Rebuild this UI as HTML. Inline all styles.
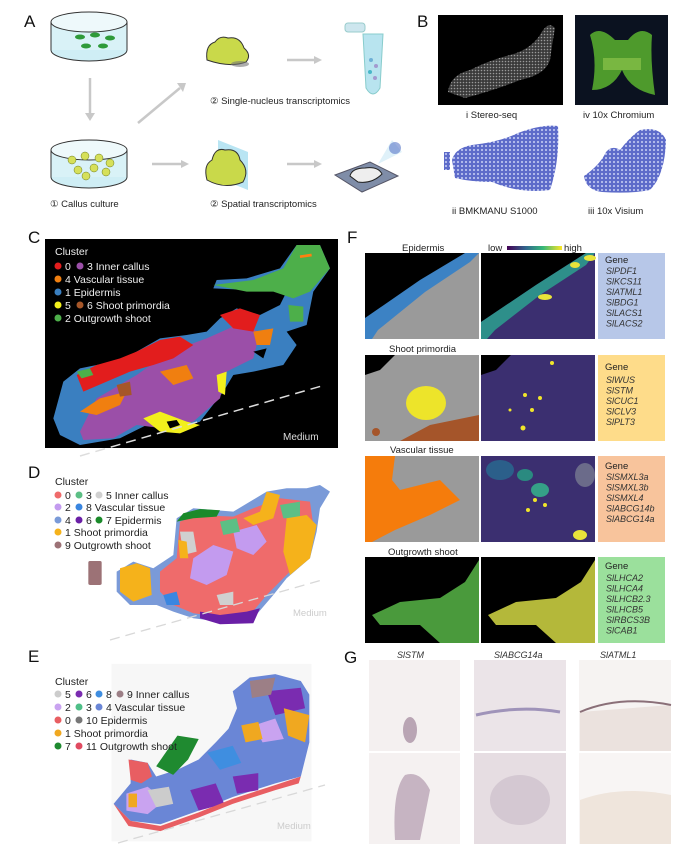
<!DOCTYPE html>
<html><head><meta charset="utf-8">
<style>
html,body{margin:0;padding:0;background:#fff;}
svg{display:block;font-family:"Liberation Sans",sans-serif;}
.lbl{font-size:17px;fill:#111;}
.cap{font-size:9.5px;fill:#222;}
.lg{font-size:10.5px;fill:#222;}
.lgw{font-size:10.5px;fill:#eee;}
.gene{font-size:9px;fill:#333;font-style:italic;}
</style></head>
<body>
<svg width="693" height="851" viewBox="0 0 693 851">
<defs>
<pattern id="cells" width="4" height="4" patternUnits="userSpaceOnUse"><rect width="4" height="4" fill="#5d6bc9"/><circle cx="2" cy="2" r="1.1" fill="#b9c2ee"/></pattern>
<pattern id="gray" width="3" height="3" patternUnits="userSpaceOnUse"><rect width="3" height="3" fill="#3a3a3a"/><circle cx="1.5" cy="1.5" r="0.8" fill="#9a9a9a"/></pattern>
<linearGradient id="vir" x1="0" x2="1"><stop offset="0" stop-color="#440154"/><stop offset="0.35" stop-color="#31688e"/><stop offset="0.65" stop-color="#35b779"/><stop offset="1" stop-color="#fde725"/></linearGradient>
</defs>
<!-- ===== Panel A ===== -->
<g>
<text class="lbl" x="24" y="27">A</text>
<g>
<ellipse cx="89" cy="50" rx="38" ry="11" fill="#cfeef5" stroke="#333"/>
<rect x="51" y="22" width="76" height="28" fill="#d9f2f7" stroke="none"/>
<line x1="51" y1="22" x2="51" y2="50" stroke="#333"/><line x1="127" y1="22" x2="127" y2="50" stroke="#333"/>
<ellipse cx="89" cy="22" rx="38" ry="10" fill="#eef9fb" stroke="#333"/>
<ellipse cx="80" cy="37" rx="5" ry="2.5" fill="#2f9a3a"/><ellipse cx="95" cy="35" rx="5" ry="2.5" fill="#2f9a3a"/><ellipse cx="110" cy="38" rx="5" ry="2.5" fill="#2f9a3a"/>
<ellipse cx="86" cy="46" rx="5" ry="2.5" fill="#2f9a3a"/><ellipse cx="103" cy="46" rx="5" ry="2.5" fill="#2f9a3a"/>
</g>
<line x1="90" y1="78" x2="90" y2="115" stroke="#c8c8c8" stroke-width="2.5"/>
<polygon points="85,113 95,113 90,121" fill="#c8c8c8"/>
<g>
<ellipse cx="89" cy="177" rx="38" ry="11" fill="#cfeef5" stroke="#333"/>
<rect x="51" y="150" width="76" height="27" fill="#d9f2f7"/>
<line x1="51" y1="150" x2="51" y2="177" stroke="#333"/><line x1="127" y1="150" x2="127" y2="177" stroke="#333"/>
<ellipse cx="89" cy="150" rx="38" ry="10" fill="#eef9fb" stroke="#333"/>
<g fill="#d6e05a" stroke="#6a7a20" stroke-width="0.5">
<circle cx="72" cy="160" r="4"/><circle cx="85" cy="156" r="4"/><circle cx="99" cy="158" r="4"/><circle cx="110" cy="163" r="4"/>
<circle cx="78" cy="170" r="4"/><circle cx="94" cy="168" r="4"/><circle cx="106" cy="172" r="4"/><circle cx="86" cy="176" r="4"/></g>
</g>
<text class="cap" x="50" y="207">① Callus culture</text>
<line x1="138" y1="123" x2="180" y2="88" stroke="#c8c8c8" stroke-width="2.5"/>
<polygon points="177,83 186,83 183,92" fill="#c8c8c8"/>
<g>
<path d="M207,60 Q205,45 215,42 Q220,35 228,38 Q240,36 244,48 Q252,55 246,62 Q230,68 207,60Z" fill="#c9d94a" stroke="#333" stroke-width="1"/>
<ellipse cx="240" cy="64" rx="9" ry="3" fill="#777" opacity="0.6"/>
</g>
<line x1="287" y1="60" x2="315" y2="60" stroke="#c8c8c8" stroke-width="2.5"/><polygon points="314,56 322,60 314,64" fill="#c8c8c8"/>
<g>
<rect x="345" y="23" width="20" height="9" rx="3" fill="#cde6ee" stroke="#9cc"/>
<path d="M363,34 L383,34 L380,88 Q373,100 366,88 Z" fill="#b8e4ef" stroke="#8cc"/>
<circle cx="371" cy="60" r="2" fill="#6fb0d6"/><circle cx="376" cy="66" r="2" fill="#a39acf"/><circle cx="370" cy="72" r="2" fill="#49b7c8"/><circle cx="375" cy="78" r="2" fill="#a39acf"/>
</g>
<text class="cap" x="210" y="104">② Single-nucleus transcriptomics</text>
<line x1="152" y1="164" x2="182" y2="164" stroke="#c8c8c8" stroke-width="2.5"/><polygon points="181,160 189,164 181,168" fill="#c8c8c8"/>
<g>
<polygon points="218,140 248,152 248,190 218,178" fill="#a8dff0" opacity="0.8"/>
<path d="M207,180 Q203,165 212,160 Q215,147 225,150 Q238,148 240,160 Q250,170 243,182 Q225,190 207,180Z" fill="#c9d94a" stroke="#333"/>
</g>
<line x1="287" y1="164" x2="315" y2="164" stroke="#c8c8c8" stroke-width="2.5"/><polygon points="314,160 322,164 314,168" fill="#c8c8c8"/>
<g>
<polygon points="335,175 370,162 398,176 362,192" fill="#7f8da8" stroke="#556"/>
<path d="M350,176 Q352,168 365,168 Q378,166 382,174 Q372,184 358,182Z" fill="#eee" stroke="#222"/>
<polygon points="378,164 392,140 402,152" fill="#d7eef8" opacity="0.8"/><circle cx="395" cy="148" r="6" fill="#5a78c8" opacity="0.6"/>
</g>
<text class="cap" x="210" y="207">② Spatial transcriptomics</text>
</g>
<!-- ===== Panel B ===== -->
<g>
<text class="lbl" x="417" y="27">B</text>
<rect x="438" y="15" width="125" height="90" fill="#000"/>
<path d="M448,92 Q450,75 470,70 Q490,60 510,55 Q530,50 540,35 Q548,20 555,28 Q552,45 550,60 Q545,75 520,80 Q495,90 465,98Z" fill="url(#gray)"/>
<text class="cap" x="466" y="118">i Stereo-seq</text>
<rect x="575" y="15" width="93" height="90" fill="#0b1220"/>
<path d="M590,35 Q600,25 615,40 L628,40 Q640,25 652,35 Q650,60 655,95 Q630,90 622,70 Q612,90 592,90 Q598,60 590,35Z" fill="#4e9a2c"/>
<rect x="603" y="58" width="38" height="12" fill="#8bc34a" opacity="0.7"/>
<text class="cap" x="583" y="118">iv 10x Chromium</text>
<path d="M452,160 Q455,148 472,145 Q500,142 518,133 Q542,124 558,126 Q560,160 550,190 Q520,194 492,182 Q472,182 455,178Z" fill="url(#cells)"/>
<rect x="444" y="152" width="6" height="18" fill="url(#cells)"/>
<text class="cap" x="452" y="214">ii BMKMANU S1000</text>
<path d="M584,176 Q600,165 606,152 Q612,145 620,150 Q630,137 640,130 Q660,126 666,140 Q665,175 650,190 Q630,194 602,192 Q586,190 584,176Z" fill="url(#cells)"/>
<text class="cap" x="588" y="214">iii 10x Visium</text>
</g>
<!-- ===== Panel C ===== -->
<g>
<text class="lbl" x="28" y="243">C</text>
<rect x="45" y="239" width="293" height="209" fill="#000"/>
<g transform="translate(20,225) scale(0.3333)">
<polygon fill="#3a7fc0" points="100,580 130,470 180,430 230,420 290,410 350,380 420,340 500,330 560,320 600,280 650,250 720,270 780,240 800,200 580,190 590,165 680,160 780,130 830,60 900,60 930,130 880,200 860,300 800,320 830,360 790,420 700,440 640,450 610,500 540,590 450,620 380,600 300,640 180,660 120,630"/>
<polygon fill="#9b4fa8" points="180,620 230,520 350,450 450,380 560,340 650,300 720,320 700,400 620,440 600,520 520,590 430,610 350,600 280,640 190,645"/>
<polygon fill="#e21d1d" points="170,450 230,420 300,400 350,380 420,345 480,335 520,360 460,400 400,420 330,440 260,470 190,500"/>
<polygon fill="#e21d1d" points="600,270 660,250 720,270 700,320 640,310"/>
<polygon fill="#f07f10" points="180,560 240,520 320,500 300,540 230,570"/>
<polygon fill="#f07f10" points="420,440 500,420 520,460 460,480"/>
<polygon fill="#f07f10" points="700,320 760,310 750,360 710,360"/>
<polygon fill="#f3f01c" points="370,580 420,560 500,590 540,600 480,625 420,620"/>
<polygon fill="#f3f01c" points="590,450 620,440 615,510 595,500"/>
<polygon fill="#a65628" points="290,480 330,470 335,510 300,515"/>
<polygon fill="#4daf4a" points="580,180 700,165 790,130 830,60 900,60 930,130 870,200 820,220 760,200 680,200"/>
<polygon fill="#4daf4a" points="805,240 850,245 850,290 810,290"/>
<polygon fill="#4daf4a" points="170,440 210,430 220,450 185,460"/>
<line x1="840" y1="95" x2="875" y2="90" stroke="#ff8010" stroke-width="8"/>
<polygon fill="#000" points="440,590 470,585 480,600 450,610"/><polygon fill="#000" points="700,380 740,370 730,400"/>
</g>
<line x1="80" y1="456" x2="325" y2="385" stroke="#ddd" stroke-width="1.5" stroke-dasharray="10,6"/>
<text x="283" y="440" font-size="10" fill="#ddd">Medium</text>
<g>
<text class="lgw" x="55" y="255">Cluster</text>
<circle cx="58" cy="266" r="3.5" fill="#e21d1d"/><text class="lgw" x="65" y="270">0</text><circle cx="80" cy="266" r="3.5" fill="#9b4fa8"/><text class="lgw" x="87" y="270">3  Inner callus</text>
<circle cx="58" cy="279" r="3.5" fill="#f07f10"/><text class="lgw" x="65" y="283">4  Vascular tissue</text>
<circle cx="58" cy="292" r="3.5" fill="#3a7fc0"/><text class="lgw" x="65" y="296">1  Epidermis</text>
<circle cx="58" cy="305" r="3.5" fill="#f3f01c"/><text class="lgw" x="65" y="309">5</text><circle cx="80" cy="305" r="3.5" fill="#a65628"/><text class="lgw" x="87" y="309">6  Shoot primordia</text>
<circle cx="58" cy="318" r="3.5" fill="#4daf4a"/><text class="lgw" x="65" y="322">2  Outgrowth shoot</text>
</g>
</g>
<!-- ===== Panel D ===== -->
<g>
<text class="lbl" x="28" y="478">D</text>
<g transform="translate(20,225) scale(0.3333)">
<polygon fill="#7a9ad8" points="290,1040 340,1010 400,1030 460,990 470,880 520,850 580,855 640,860 690,830 740,800 800,790 860,790 900,780 930,800 900,850 890,920 870,1000 800,1060 760,1110 700,1180 600,1190 520,1180 460,1160 410,1140 330,1140 290,1100"/>
<polygon fill="#ef6b6b" points="420,1040 470,1000 480,890 530,870 640,875 700,850 780,820 870,830 880,900 850,1000 790,1060 740,1110 690,1170 600,1175 520,1165 460,1140 420,1100"/>
<polygon fill="#c39bef" points="520,1000 580,960 640,980 620,1050 560,1080 510,1060"/>
<polygon fill="#c39bef" points="640,920 710,900 740,950 700,990 650,970"/>
<polygon fill="#5cbf85" points="600,890 650,880 660,920 610,930"/><polygon fill="#5cbf85" points="780,840 840,830 840,880 790,880"/>
<polygon fill="#d0d0d0" points="480,920 520,920 530,980 490,990"/><polygon fill="#d0d0d0" points="590,1110 640,1100 640,1140 600,1140"/>
<polygon fill="#f5b21b" points="300,1030 350,1015 390,1030 395,1110 340,1130 300,1100"/>
<polygon fill="#f5b21b" points="800,880 860,870 890,900 870,1000 810,1050 790,980"/>
<polygon fill="#f5b21b" points="670,880 720,860 740,800 780,810 760,880 700,900"/>
<polygon fill="#f5b21b" points="475,945 500,950 505,1000 480,1000"/>
<polygon fill="#1a8a2a" points="470,890 490,865 540,852 600,856 590,875 520,880"/>
<polygon fill="#6a1fa6" points="540,1160 600,1170 680,1160 720,1150 700,1195 600,1198 540,1180"/>
<polygon fill="#3a86e0" points="430,1110 470,1100 480,1140 440,1140"/>
<rect x="205" y="1008" width="40" height="72" rx="5" fill="#9c7276"/>
</g>
<line x1="110" y1="640" x2="322" y2="580" stroke="#d8d8d8" stroke-width="1.3" stroke-dasharray="10,6"/>
<text x="293" y="616" font-size="9.5" fill="#ccc">Medium</text>
<g>
<text class="lg" x="55" y="485">Cluster</text>
<circle cx="58" cy="495" r="3.5" fill="#ef6b6b"/><text class="lg" x="65" y="499">0</text><circle cx="79" cy="495" r="3.5" fill="#5cbf85"/><text class="lg" x="86" y="499">3</text><circle cx="99" cy="495" r="3.5" fill="#d0d0d0"/><text class="lg" x="106" y="499">5  Inner callus</text>
<circle cx="58" cy="507" r="3.5" fill="#c39bef"/><text class="lg" x="65" y="511">2</text><circle cx="79" cy="507" r="3.5" fill="#3a86e0"/><text class="lg" x="86" y="511">8  Vascular tissue</text>
<circle cx="58" cy="520" r="3.5" fill="#7a9ad8"/><text class="lg" x="65" y="524">4</text><circle cx="79" cy="520" r="3.5" fill="#6a1fa6"/><text class="lg" x="86" y="524">6</text><circle cx="99" cy="520" r="3.5" fill="#1a8a2a"/><text class="lg" x="106" y="524">7  Epidermis</text>
<circle cx="58" cy="532" r="3.5" fill="#f5b21b"/><text class="lg" x="65" y="536">1  Shoot primordia</text>
<circle cx="58" cy="545" r="3.5" fill="#9c7276"/><text class="lg" x="65" y="549">9  Outgrowth shoot</text>
</g>
</g>
<!-- ===== Panel E ===== -->
<g>
<text class="lbl" x="28" y="662">E</text>
<g transform="translate(20,640) scale(0.4255,0.3413)">
<rect x="215" y="70" width="470" height="520" fill="#f7f7f7"/>
<polygon fill="#6a86d6" points="220,480 260,420 260,350 300,360 320,400 370,380 420,350 460,300 490,260 510,200 500,150 540,110 600,100 660,120 680,160 680,300 660,400 600,420 500,460 420,500 330,540 260,530"/>
<polygon fill="#7a2cb0" points="400,440 460,420 480,480 420,500"/><polygon fill="#7a2cb0" points="500,400 560,390 560,440 510,450"/>
<polygon fill="#7a2cb0" points="580,150 660,140 670,200 600,220"/>
<polygon fill="#c9a3f0" points="250,450 300,430 340,470 300,510 250,500"/>
<polygon fill="#c9a3f0" points="550,250 600,230 620,290 570,300"/>
<polygon fill="#ccc" points="300,440 350,430 360,480 320,490"/><polygon fill="#9c7f86" points="540,120 600,110 590,160 545,170"/>
<polygon fill="#f0a820" points="520,250 560,240 570,290 530,300"/><polygon fill="#f0a820" points="620,200 680,220 670,300 630,280"/>
<polygon fill="#f0a820" points="255,450 275,450 275,490 255,490"/>
<polygon fill="#e85e62" points="220,480 260,530 330,545 420,505 500,465 600,425 660,400 655,420 600,440 500,480 420,520 330,560 255,545"/>
<polygon fill="#e85e62" points="255,350 300,360 310,400 285,420 260,410"/>
<polygon fill="#1f8a30" points="320,370 370,280 420,290 395,350 360,395"/>
<polygon fill="#3f8ee0" points="440,330 500,310 520,360 470,380"/>
</g>
<line x1="118" y1="843" x2="325" y2="785" stroke="#d8d8d8" stroke-width="1.3" stroke-dasharray="10,6"/>
<text x="277" y="829" font-size="9.5" fill="#ccc">Medium</text>
<g>
<text class="lg" x="55" y="685">Cluster</text>
<circle cx="58" cy="694" r="3.5" fill="#ccc"/><text class="lg" x="65" y="698">5</text><circle cx="79" cy="694" r="3.5" fill="#7a2cb0"/><text class="lg" x="86" y="698">6</text><circle cx="99" cy="694" r="3.5" fill="#3f8ee0"/><text class="lg" x="106" y="698">8</text><circle cx="120" cy="694" r="3.5" fill="#9c7f86"/><text class="lg" x="127" y="698">9  Inner callus</text>
<circle cx="58" cy="707" r="3.5" fill="#c9a3f0"/><text class="lg" x="65" y="711">2</text><circle cx="79" cy="707" r="3.5" fill="#4fbf88"/><text class="lg" x="86" y="711">3</text><circle cx="99" cy="707" r="3.5" fill="#6a86d6"/><text class="lg" x="106" y="711">4  Vascular tissue</text>
<circle cx="58" cy="720" r="3.5" fill="#e85e62"/><text class="lg" x="65" y="724">0</text><circle cx="79" cy="720" r="3.5" fill="#777"/><text class="lg" x="86" y="724">10 Epidermis</text>
<circle cx="58" cy="733" r="3.5" fill="#f0a820"/><text class="lg" x="65" y="737">1  Shoot primordia</text>
<circle cx="58" cy="746" r="3.5" fill="#1f8a30"/><text class="lg" x="65" y="750">7</text><circle cx="79" cy="746" r="3.5" fill="#e04a60"/><text class="lg" x="86" y="750">11 Outgrowth shoot</text>
</g>
</g>
<!-- ===== Panel F ===== -->
<g>
<text class="lbl" x="347" y="243">F</text>
<text class="cap" x="488" y="251">low</text>
<rect x="507" y="246" width="55" height="4" fill="url(#vir)"/>
<text class="cap" x="564" y="251">high</text>
<text class="cap" x="402" y="251">Epidermis</text>
<g>
<rect x="365" y="253" width="114" height="86" fill="#000"/>
<polygon points="365,339 365,322 420,285 470,253 479,253 479,339" fill="#9a9a9a"/>
<polygon points="365,339 365,318 420,280 465,253 479,253 470,262 425,292 378,330 372,339" fill="#3c82c4"/>
</g>
<g>
<rect x="481" y="253" width="114" height="86" fill="#000"/>
<polygon points="481,339 481,322 536,285 586,253 595,253 595,339" fill="#3b2f70"/>
<polygon points="481,322 536,285 586,253 595,253 586,265 540,295 495,330 487,339 481,339" fill="#2e8f8a"/>
<ellipse cx="545" cy="297" rx="7" ry="3" fill="#e8e33a"/><ellipse cx="575" cy="265" rx="5" ry="3" fill="#e8e33a"/><ellipse cx="590" cy="258" rx="6" ry="3" fill="#e8e33a"/>
</g>
<rect x="598" y="253" width="67" height="86" fill="#b7c7e8"/>
<text class="cap" x="605" y="263">Gene</text>
<text class="gene" x="606" y="274">SlPDF1</text><text class="gene" x="606" y="284.5">SlKCS11</text><text class="gene" x="606" y="295">SlATML1</text><text class="gene" x="606" y="305.5">SlBDG1</text><text class="gene" x="606" y="316">SlLACS1</text><text class="gene" x="606" y="326.5">SlLACS2</text>
<text class="cap" x="389" y="352">Shoot primordia</text>
<g>
<rect x="365" y="355" width="114" height="86" fill="#9a9a9a"/>
<polygon points="365,355 395,355 380,370 365,375" fill="#000"/>
<ellipse cx="426" cy="403" rx="20" ry="17" fill="#ede42a"/>
<polygon points="400,441 430,425 479,415 479,441" fill="#a5552a"/>
<circle cx="376" cy="432" r="4" fill="#a5552a"/>
</g>
<g>
<rect x="481" y="355" width="114" height="86" fill="#3b2f70"/>
<polygon points="481,355 511,355 496,370 481,375" fill="#000"/>
<circle cx="525" cy="395" r="2" fill="#f0e52a"/><circle cx="540" cy="398" r="2" fill="#f0e52a"/><circle cx="532" cy="410" r="2" fill="#f0e52a"/><circle cx="523" cy="428" r="2.5" fill="#f0e52a"/><circle cx="552" cy="363" r="2" fill="#f0e52a"/><circle cx="510" cy="410" r="1.5" fill="#f0e52a"/>
</g>
<rect x="598" y="355" width="67" height="86" fill="#fedc8a"/>
<text class="cap" x="605" y="370">Gene</text>
<text class="gene" x="606" y="383">SlWUS</text><text class="gene" x="606" y="393.5">SlSTM</text><text class="gene" x="606" y="404">SlCUC1</text><text class="gene" x="606" y="414.5">SlCLV3</text><text class="gene" x="606" y="425">SlPLT3</text>
<text class="cap" x="390" y="453">Vascular tissue</text>
<g>
<rect x="365" y="456" width="114" height="86" fill="#9a9a9a"/>
<polygon points="365,456 395,456 392,480 400,490 440,480 460,500 430,515 395,530 372,542 365,542" fill="#f57c0c"/>
</g>
<g>
<rect x="481" y="456" width="114" height="86" fill="#3b2f70"/>
<ellipse cx="500" cy="470" rx="14" ry="10" fill="#2b5f8a"/><ellipse cx="540" cy="490" rx="9" ry="7" fill="#35a087"/><ellipse cx="585" cy="475" rx="10" ry="12" fill="#6b6b8a"/>
<ellipse cx="525" cy="475" rx="8" ry="6" fill="#2a8a80"/><ellipse cx="580" cy="535" rx="7" ry="5" fill="#e8e33a"/>
<circle cx="535" cy="500" r="2" fill="#f0e52a"/><circle cx="545" cy="505" r="2" fill="#f0e52a"/><circle cx="528" cy="510" r="2" fill="#f0e52a"/>
</g>
<rect x="598" y="456" width="67" height="86" fill="#f8c49c"/>
<text class="cap" x="605" y="469">Gene</text>
<text class="gene" x="606" y="480">SlSMXL3a</text><text class="gene" x="606" y="490.5">SlSMXL3b</text><text class="gene" x="606" y="501">SlSMXL4</text><text class="gene" x="606" y="511.5">SlABCG14b</text><text class="gene" x="606" y="522">SlABCG14a</text>
<text class="cap" x="388" y="555">Outgrowth shoot</text>
<g>
<rect x="365" y="557" width="114" height="86" fill="#000"/>
<polygon points="372,615 400,602 440,598 465,582 479,560 479,643 440,643 420,625 380,625" fill="#4a9a3c"/>
</g>
<g>
<rect x="481" y="557" width="114" height="86" fill="#000"/>
<polygon points="488,615 516,602 556,598 581,582 595,560 595,643 556,643 536,625 496,625" fill="#b4b83a"/>
</g>
<rect x="598" y="557" width="67" height="86" fill="#9be09c"/>
<text class="cap" x="605" y="569">Gene</text>
<text class="gene" x="606" y="581">SlLHCA2</text><text class="gene" x="606" y="591.5">SlLHCA4</text><text class="gene" x="606" y="602">SlLHCB2.3</text><text class="gene" x="606" y="612.5">SlLHCB5</text><text class="gene" x="606" y="623">SlRBCS3B</text><text class="gene" x="606" y="633.5">SlCAB1</text>
</g>
<!-- ===== Panel G ===== -->
<g>
<text class="lbl" x="344" y="663">G</text>
<text class="gene" x="397" y="658" font-size="9.5">SlSTM</text>
<text class="gene" x="494" y="658" font-size="9.5">SlABCG14a</text>
<text class="gene" x="600" y="658" font-size="9.5">SlATML1</text>
<g>
<rect x="369" y="660" width="91" height="91" fill="#f4f0f0"/>
<ellipse cx="410" cy="730" rx="7" ry="13" fill="#7d5a78" opacity="0.5"/>
<rect x="369" y="753" width="91" height="91" fill="#f5f1f1"/>
<path d="M395,840 Q392,790 405,775 Q420,770 430,790 L420,840Z" fill="#8d6a89" opacity="0.45"/>
<rect x="474" y="660" width="92" height="91" fill="#ebe4e8"/>
<path d="M476,715 Q520,705 560,712" stroke="#6d5d9a" stroke-width="3" fill="none" opacity="0.6"/>
<rect x="474" y="753" width="92" height="91" fill="#e6dde2"/>
<ellipse cx="520" cy="800" rx="30" ry="25" fill="#c2b4c2" opacity="0.5"/>
<rect x="579" y="660" width="92" height="91" fill="#f6f3f2"/>
<path d="M580,712 L671,705 L671,751 L580,751Z" fill="#ebe2de"/>
<path d="M580,712 Q620,695 671,705" stroke="#8a6f78" stroke-width="2" fill="none"/>
<rect x="579" y="753" width="92" height="91" fill="#f8f5f4"/>
<path d="M580,800 Q620,785 671,795 L671,844 L580,844Z" fill="#efe5dc"/>
</g>
</g>
</svg>
</body></html>
